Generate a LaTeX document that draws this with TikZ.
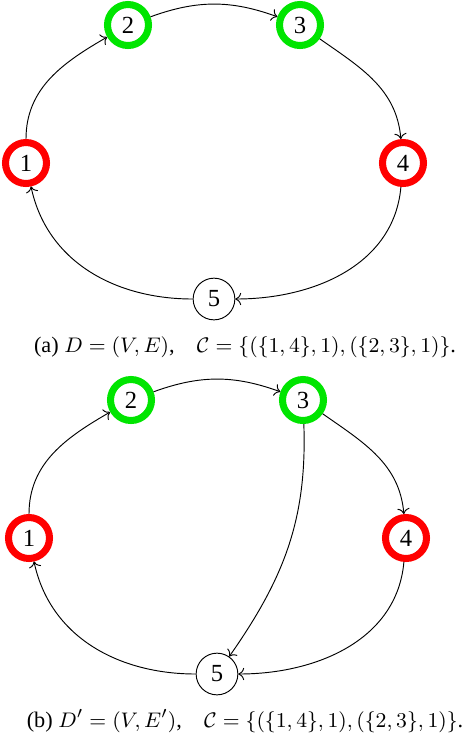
\documentclass[tikz,border=0pt]{standalone}
\usepackage{amsmath,amssymb}
\usepackage{fontspec}
\setmainfont{Liberation Serif}
\usetikzlibrary{arrows.meta,positioning}

\tikzset{
  vtx/.style={circle,draw,minimum size=17.8pt,inner sep=0pt,font=\fontsize{10.5}{12}\selectfont},
  vred/.style={vtx,draw=red,line width=3pt,minimum size=17.5pt},
  vgreen/.style={vtx,draw=green!90!black,line width=3pt,minimum size=17.5pt},
  arc/.style={->,thin},
  captext/.style={inner sep=0pt,font=\fontsize{9.5}{11}\selectfont}
}

\begin{document}
\begin{tikzpicture}[x=0.015cm,y=-0.015cm]
  \useasboundingbox (0,0) rectangle (474,733);
  % ---- (a) D = (V,E) ----
  \begin{scope}[shift={(0,0)}]
    \node[vred]   (a1) at (26,163)  {1};
    \node[vgreen] (a2) at (128,25)  {2};
    \node[vgreen] (a3) at (300,25)  {3};
    \node[vred]   (a4) at (403,163) {4};
    \node[vtx]    (a5) at (214,299) {5};
    \draw[arc] (a1) to[out=90,in=210] (a2);
    \draw[arc] (a2) to[out=20,in=160] (a3);
    \draw[arc] (a3) to[out=-35,in=95] (a4);
    \draw[arc] (a4) to[out=-95,in=0] (a5);
    \draw[arc] (a5) to[out=180,in=-78] (a1);
    \node[captext] (capa) at (245,347) {(a) $D=(V,E)$,\quad $\mathcal{C}=\{(\{1,4\},1),(\{2,3\},1)\}$.};
  \end{scope}
  % ---- (b) D' = (V,E') ----
  \begin{scope}[shift={(3,375)}]
    \node[vred]   (b1) at (26,163)  {1};
    \node[vgreen] (b2) at (128,25)  {2};
    \node[vgreen] (b3) at (300,25)  {3};
    \node[vred]   (b4) at (403,163) {4};
    \node[vtx]    (b5) at (214,299) {5};
    \draw[arc] (b1) to[out=90,in=210] (b2);
    \draw[arc] (b2) to[out=20,in=160] (b3);
    \draw[arc] (b3) to[out=-35,in=95] (b4);
    \draw[arc] (b4) to[out=-95,in=0] (b5);
    \draw[arc] (b5) to[out=180,in=-78] (b1);
    \draw[arc] (b3) to[out=-88,in=55] (b5);
    \node[captext] (capb) at (242,346) {(b) $D'=(V,E')$,\quad $\mathcal{C}=\{(\{1,4\},1),(\{2,3\},1)\}$.};
  \end{scope}
\end{tikzpicture}
\end{document}
